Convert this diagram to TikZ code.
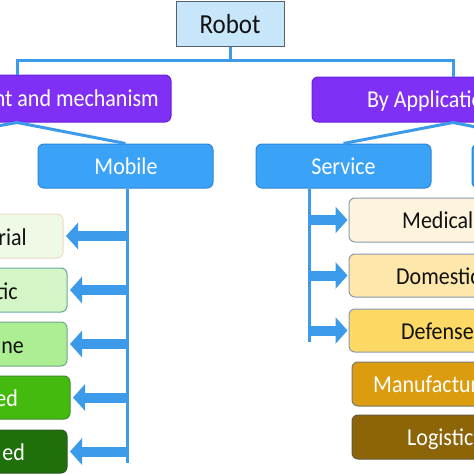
\documentclass[tikz,border=0pt]{standalone}
\usepackage{fontspec}
\setmainfont{Carlito}
\usepackage{graphicx}
\usetikzlibrary{arrows.meta}
\definecolor{robotfill}{HTML}{C7E6F9}
\definecolor{robotline}{HTML}{56606A}
\definecolor{linkblue}{HTML}{3B9BEA}
\definecolor{purplefill}{HTML}{7F2FF6}
\definecolor{purpleline}{HTML}{6A22D8}
\definecolor{mobfill}{HTML}{3AA2F7}
\definecolor{mobline}{HTML}{2D86D6}
\definecolor{gA}{HTML}{EEF9E6}\definecolor{gAl}{HTML}{EEDCC8}
\definecolor{gB}{HTML}{D4F6C6}\definecolor{gBl}{HTML}{6AA8A0}
\definecolor{gC}{HTML}{AEEE92}\definecolor{gCl}{HTML}{6AA890}
\definecolor{gD}{HTML}{45BA0E}\definecolor{gDl}{HTML}{3C8E28}
\definecolor{gE}{HTML}{1F6F0B}\definecolor{gEl}{HTML}{2A5A20}
\definecolor{yA}{HTML}{FEF4DD}\definecolor{yAl}{HTML}{8A9AB0}
\definecolor{yB}{HTML}{FEE7AA}\definecolor{yBl}{HTML}{8A9AB0}
\definecolor{yC}{HTML}{FCD865}\definecolor{yCl}{HTML}{8A9AB0}
\definecolor{yD}{HTML}{DC9C10}\definecolor{yDl}{HTML}{7A7A6A}
\definecolor{yE}{HTML}{8C6508}\definecolor{yEl}{HTML}{6A5A3A}
\definecolor{txtdark}{HTML}{111111}
\newcommand\tx[1]{\scalebox{1}[1.1]{#1}}
\begin{document}
\begin{tikzpicture}[x=1pt,y=-1pt,
  box/.style={rounded corners=6pt, line width=1pt, inner sep=0pt},
  conn/.style={draw=linkblue, line width=3pt},
  barrow/.style={draw=linkblue, line width=10pt, -{Triangle[length=12pt,width=26pt]}},
  lbl/.style={inner sep=0pt, font=\fontsize{22}{26}\selectfont, text=txtdark},
  wlbl/.style={lbl, text=white},
]
\useasboundingbox (0,0) rectangle (474,474);
\clip (0,0) rectangle (474,474);
\fill[white] (0,0) rectangle (474,474);

% coordinates
\coordinate (hub) at (230,60);
\coordinate (offl) at (-97,143);
\coordinate (mobend) at (127,463);
\coordinate (servend) at (309,342);

% boxes (geometry only)
\node[draw=robotline, fill=robotfill, line width=1pt, inner sep=0pt, minimum width=108pt, minimum height=45pt] (robot) at (230,23.5) {};
\node[box, draw=purpleline, fill=purplefill, minimum width=308pt, minimum height=47pt] (pl) at (17,98.5) {};
\node[box, draw=purpleline, fill=purplefill, minimum width=282pt, minimum height=45pt] (pr) at (453,99.5) {};

% top connectors
\draw[conn] (robot.south) -- (hub);
\draw[conn] (pl.north) |- (hub) -| (pr.north);

\node[box, draw=mobline, fill=mobfill, minimum width=175pt, minimum height=44pt] (mob) at (125.5,166) {};
\node[box, draw=mobline, fill=mobfill, minimum width=175pt, minimum height=44pt] (serv) at (343.5,166) {};
\node[box, draw=mobline, fill=mobfill, minimum width=175pt, minimum height=44pt] (b3) at (559.5,166) {};

\begin{scope}[on background layer/.style={}]
\end{scope}

% diagonal connectors
\draw[conn] (pl.south) -- (mob.north);
\draw[conn] (pl.south) -- (offl);
\draw[conn] (pr.south) -- (serv.north);
\draw[conn] (pr.south) -- (b3.north);

% vertical trunks
\draw[conn] (mob.south -| mobend) -- (mobend);
\draw[conn] (serv.south -| servend) -- (servend);

% left boxes
\node[box, draw=gAl, fill=gA, minimum width=183pt, minimum height=44pt] (g1) at (-28.5,236) {};
\node[box, draw=gBl, fill=gB, minimum width=187pt, minimum height=44pt] (g2) at (-26.5,290) {};
\node[box, draw=gCl, fill=gC, minimum width=187pt, minimum height=44pt] (g3) at (-26.5,344) {};
\node[box, draw=gDl, fill=gD, minimum width=190pt, minimum height=43pt] (g4) at (-25,397.5) {};
\node[box, draw=gEl, fill=gE, minimum width=187pt, minimum height=43pt] (g5) at (-26.5,451.5) {};

% right boxes
\node[box, draw=yAl, fill=yA, minimum width=211pt, minimum height=44pt] (y1) at (454.5,220) {};
\node[box, draw=yBl, fill=yB, minimum width=211pt, minimum height=43pt] (y2) at (454.5,275.5) {};
\node[box, draw=yCl, fill=yC, minimum width=211pt, minimum height=43pt] (y3) at (454.5,330.5) {};
\node[box, draw=yDl, fill=yD, minimum width=208pt, minimum height=44pt] (y4) at (456,384) {};
\node[box, draw=yEl, fill=yE, minimum width=208pt, minimum height=44pt] (y5) at (456,437) {};

% block arrows
\foreach \g in {g1,g2,g3,g4,g5}
  \draw[barrow, shorten >=2.5pt] (\g.east -| mobend) -- (\g.east);
\foreach \y in {y1,y2,y3}
  \draw[barrow, shorten >=1pt] (\y.west -| servend) -- (\y.west);

% labels
\node[lbl, font=\fontsize{25}{30}\selectfont, anchor=base] (trobot) at (230,33) {\tx{Robot}};
\node[wlbl, anchor=base east] (tpl) at (159,106) {\tx{nt and mechanism}};
\node[wlbl, anchor=base west] (tpr) at (367,107) {\tx{By Applicatio}};
\node[wlbl, anchor=base] (tmob) at (126,174) {\tx{Mobile}};
\node[wlbl, anchor=base] (tserv) at (343.5,174) {\tx{Service}};

\node[lbl, anchor=base east] (tg1) at (27,245) {\tx{rial}};
\node[lbl, anchor=base east] (tg2) at (18,299) {\tx{tic}};
\node[lbl, anchor=base east] (tg3) at (24,353) {\tx{ne}};
\node[wlbl, anchor=base east] (tg4) at (18,406) {\tx{ed}};
\node[wlbl, anchor=base east] (tg5) at (25,460) {\tx{ed}};

\node[lbl, anchor=base west] (ty1) at (402,228) {\tx{Medical}};
\node[lbl, anchor=base west] (ty2) at (396,284) {\tx{Domestic}};
\node[lbl, anchor=base west] (ty3) at (401,339) {\tx{Defense}};
\node[wlbl, anchor=base west] (ty4) at (373,392) {\tx{Manufactur}};
\node[wlbl, anchor=base west] (ty5) at (407,445) {\tx{Logistic}};
\end{tikzpicture}
\end{document}
